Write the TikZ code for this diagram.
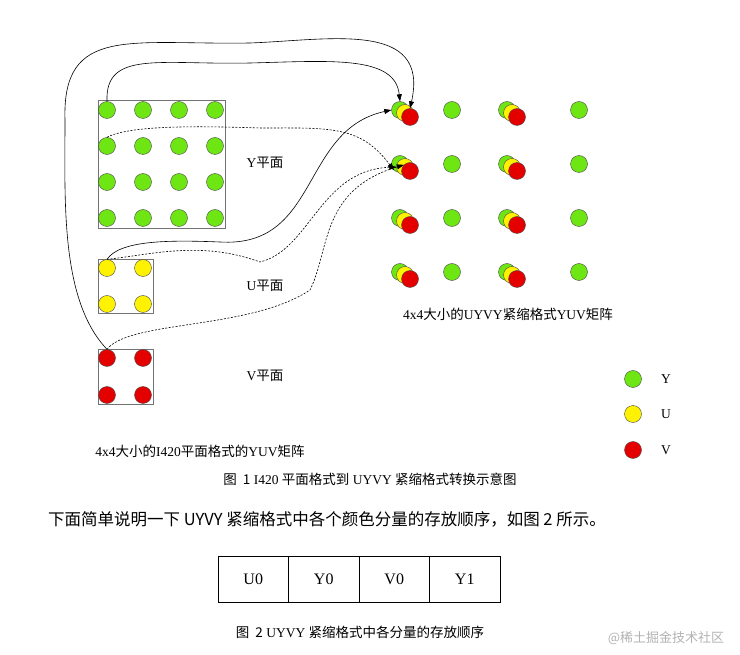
\documentclass[tikz,border=0pt]{standalone}
\usepackage{fontspec}
\setmainfont{Liberation Serif}
\newfontfamily\cjk{Noto Sans CJK SC}
\usetikzlibrary{arrows.meta}
\definecolor{gfill}{RGB}{110,230,20}
\tikzset{
 dot/.style={circle,draw=black!70,minimum size=17pt,inner sep=0pt},
 gdot/.style={dot,fill=gfill},
 ydot/.style={dot,fill=yellow},
 rdot/.style={dot,fill=red!90!black},
 grid/.style={draw=black!55,line width=0.8pt},
 lab/.style={font=\fontsize{13.5}{15}\selectfont,inner sep=0pt},
 con/.style={-{Triangle[length=7pt,width=5pt]},line width=0.6pt},
 dcon/.style={con,dashed,dash pattern=on 2pt off 1.5pt},
}
\begin{document}
\begin{tikzpicture}[x=1pt,y=-1pt]
\useasboundingbox (0,0) rectangle (740,655);
% Y plane
\draw[grid] (98,100) rectangle (225,228);
\foreach \r in {0,1,2,3}{\foreach \c in {0,1,2,3}{
 \node[gdot] (y\r\c) at (107+36*\c,110+36*\r) {};}}
\draw[grid] (98,259) rectangle (153,313);
\node[ydot] (u00) at (107,268) {}; \node[ydot] (u01) at (143,268) {};
\node[ydot] (u10) at (107,304) {}; \node[ydot] (u11) at (143,304) {};
\draw[grid] (98,349) rectangle (153,404);
\node[rdot] (v00) at (107,358) {}; \node[rdot] (v01) at (143,358) {};
\node[rdot] (v10) at (107,395) {}; \node[rdot] (v11) at (143,395) {};
\node[lab] (ylab) at (265,163) {Y{\cjk 平面}};
\node[lab] (ulab) at (265,286) {U{\cjk 平面}};
\node[lab] (vlab) at (265,376) {V{\cjk 平面}};
% packed matrix
\foreach \r/\yy in {0/110,1/164,2/218,3/272}{
 \foreach \c/\xx in {0/400,1/507}{
  \node[gdot] (pg\r\c) at (\xx,\yy) {};
  \node[ydot] (py\r\c) at (\xx+5,\yy+3) {};
  \node[rdot] (pr\r\c) at (\xx+10,\yy+7) {};}
 \node[gdot] (s\r1) at (452,\yy) {};
 \node[gdot] (s\r2) at (579,\yy) {};
}
\node[lab] (plab) at (508,314) {4x4{\cjk 大小的}UYVY{\cjk 紧缩格式}YUV{\cjk 矩阵}};
\node[lab] (ilab) at (200,451) {4x4{\cjk 大小的}I420{\cjk 平面格式的}YUV{\cjk 矩阵}};
% legend
\node[gdot] (lg) at (633,379) {}; \node[lab] at (666,379) {Y};
\node[ydot] (ly) at (633,414) {}; \node[lab] at (666,414) {U};
\node[rdot] (lr) at (633,450) {}; \node[lab] at (666,450) {V};
% connectors
\draw[con] (y00.north) .. controls (105,50) and (160,65) .. (250,63) .. controls (330,61) and (395,55) .. (pg00.north);
\draw[con] (v00.north) .. controls (60,300) and (65,200) .. (65,120) .. controls (62,25) and (130,45) .. (250,43) .. controls (330,40) and (430,20) .. (pr00.north);
\draw[dcon] (y10.north) .. controls (130,125) and (200,126) .. (260,128) .. controls (330,128) and (360,125) .. (pg10.south west);
\draw[con] (u00.north) .. controls (120,240) and (170,240) .. (220,242) .. controls (320,248) and (300,130) .. (pg00.west);
\draw[dcon] (u00.north) .. controls (150,255) and (200,240) .. (260,262) .. controls (310,250) and (320,170) .. (py10.west);
\draw[dcon] (v00.north) .. controls (130,320) and (250,330) .. (310,290) .. controls (330,250) and (320,190) .. (pr10.north west);
% captions
\node[lab] (cap1) at (370,479) {{\cjk 图\ \ 1} I420 {\cjk 平面格式到} UYVY {\cjk 紧缩格式转换示意图}};
\node[inner sep=0pt,anchor=west,font=\cjk\fontsize{16.5}{18}\selectfont] (body) at (48,519) {下面简单说明一下 UYVY 紧缩格式中各个颜色分量的存放顺序，如图\ 2 所示。};
\foreach \i/\t in {0/U0,1/Y0,2/V0,3/Y1}{
 \node[draw,line width=0.8pt,minimum width=70.5pt,minimum height=46pt,inner sep=0pt,font=\fontsize{16}{18}\selectfont] (t\i) at (253.25+70.5*\i,579) {\t};}
\node[lab] (cap2) at (360,632) {{\cjk 图\ \ 2} UYVY {\cjk 紧缩格式中各分量的存放顺序}};
\node[inner sep=0pt,text=black!30,font=\cjk\fontsize{13}{14}\selectfont] (wm) at (666,638) {@稀土掘金技术社区};
\end{tikzpicture}
\end{document}
